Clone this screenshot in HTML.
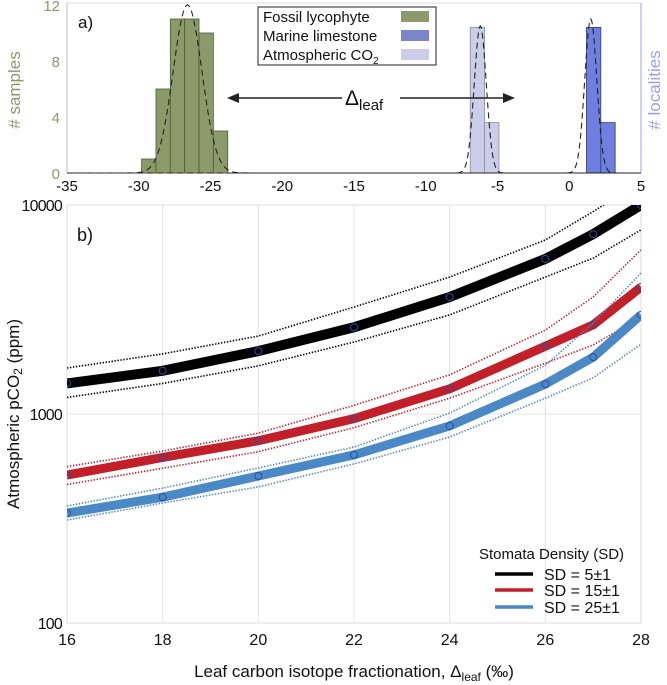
<!DOCTYPE html>
<html><head><meta charset="utf-8"><style>
body{margin:0;background:#fff;}
svg{display:block;font-family:"Liberation Sans",sans-serif;}
</style></head><body>
<svg id="chart" width="667" height="685" viewBox="0 0 667 685"></svg>
<script>
// Panel a data
const greenBinStarts=[-29.8,-28.8,-27.8,-26.8,-25.8,-24.8];
const greenCounts=[1,6,11,11,10,3];
const atmBinStarts=[-6.9,-5.9];
const atmCounts=[10.4,3.6];
const marBinStarts=[1.2,2.2];
const marCounts=[10.4,3.6];
const fitMeans=[-26.6,-6.2,1.5];
const fitHeights=[12,10.5,11];
const fitSigmas=[1.0,0.42,0.42];
const aXTicks=[-35,-30,-25,-20,-15,-10,-5,0,5];
const aYTicks=[0,4,8,12];
// Panel b data
const dleaf=[16,18,20,22,24,26,27,28];
const blackMid=[1400,1610,2000,2600,3630,5520,7250,10000];
const blackHi=[1660,1940,2360,3250,4520,6800,9300,13000];
const blackLo=[1200,1400,1700,2210,2980,4520,5570,7600];
const redMid=[510,620,745,950,1320,2110,2670,4050];
const redHi=[560,665,810,1100,1540,2520,3630,6100];
const redLo=[460,550,660,860,1190,1750,2140,2910];
const blueMid=[336,400,505,637,877,1390,1870,2980];
const blueHi=[363,442,552,695,1010,1710,2720,4730];
const blueLo=[311,375,448,577,776,1190,1490,2160];
const bXTicks=[16,18,20,22,24,26,28];
const bYTicks=[100,1000,10000];

const NS="http://www.w3.org/2000/svg";
const svg=document.getElementById('chart');
function mk(tag,attrs,parent){const e=document.createElementNS(NS,tag);for(const k in attrs)e.setAttribute(k,attrs[k]);(parent||svg).appendChild(e);return e;}

// ---------- Panel A ----------
const ax=v=>67+(v+35)*(574/40);
const ay=v=>173-v*(168/12);
let g=mk('g',{});


let fr=mk('rect',{x:67,y:3,width:574,height:170,fill:'none',stroke:'#ddd','stroke-width':1},g);


let ra=mk('line',{x1:641,y1:3,x2:641,y2:173,stroke:'#9aa0e8','stroke-width':1},g);


let la=mk('line',{x1:67,y1:3,x2:67,y2:173,stroke:'#bbb','stroke-width':1},g);


let ba=mk('line',{x1:67,y1:173,x2:641,y2:173,stroke:'#333','stroke-width':1},g);


aXTicks.forEach(t=>{
  const tl=mk('text',{x:ax(t),y:191,'font-size':15,'text-anchor':'middle',fill:'#111'},g);tl.textContent=t;
  
  
});
aYTicks.forEach(t=>{
  const tl=mk('text',{x:60,y:ay(t)+6,'font-size':15,'text-anchor':'end',fill:'#8a9a6a'},g);tl.textContent=t;
  
  
});
function bars(starts,counts,fill,stroke,name){
  starts.forEach((s,i)=>{
    const r=mk('rect',{x:ax(s),y:ay(counts[i]),width:ax(s+1)-ax(s),height:ay(0)-ay(counts[i]),fill:fill,stroke:stroke,'stroke-width':0.8},g);
    
    
  });
}
bars(greenBinStarts,greenCounts,'#8b9a68','#4d5a38','bar-fossil-lycophyte');
bars(atmBinStarts,atmCounts,'#cbcde9','#8a8ca8','bar-atmospheric-co2');
bars(marBinStarts,marCounts,'#6f7fe0','#333a70','bar-marine-limestone');
fitMeans.forEach((m,i)=>{
  let d='';
  for(let v=-35;v<=5.001;v+=0.05){const y=fitHeights[i]*Math.exp(-0.5*((v-m)/fitSigmas[i])**2);d+=(d?'L':'M')+ax(v).toFixed(2)+','+ay(y).toFixed(2);}
  const p=mk('path',{d:d,fill:'none',stroke:'#222','stroke-width':1.1,'stroke-dasharray':'6 4'},g);
  
  
});
let arr=mk('g',{},g);


mk('line',{x1:232,y1:98,x2:342,y2:98,stroke:'#222','stroke-width':1.5},arr);
mk('line',{x1:400,y1:98,x2:510,y2:98,stroke:'#222','stroke-width':1.5},arr);
mk('path',{d:'M227,98 L239,93 L239,103 Z',fill:'#222'},arr);
mk('path',{d:'M515,98 L503,93 L503,103 Z',fill:'#222'},arr);
let dl=mk('text',{x:345,y:105,'font-size':21,fill:'#111'},g);
dl.innerHTML='Δ<tspan font-size="15" dy="5">leaf</tspan>';


let pa=mk('text',{x:78,y:28,'font-size':17,fill:'#111'},g);pa.textContent='a)';


let yl=mk('text',{x:0,y:0,'font-size':17,fill:'#8a9a6a','text-anchor':'middle',transform:'translate(20,90) rotate(-90)'},g);yl.textContent='# samples';


let yr=mk('text',{x:0,y:0,'font-size':17,fill:'#9aa0e8','text-anchor':'middle',transform:'translate(660,90) rotate(-90)'},g);yr.textContent='# localities';


let lg=mk('g',{},g);


mk('rect',{x:258,y:7,width:178,height:58,fill:'#fff',stroke:'#222','stroke-width':1},lg);
[['Fossil lycophyte','#8b9a68',21],['Marine limestone','#7b85cc',40],['Atmospheric CO','#cbcde9',59]].forEach((e,i)=>{
  const t=mk('text',{x:263,y:e[2]+1,'font-size':15,fill:'#111'},lg);
  t.innerHTML=e[0]+(i==2?'<tspan font-size="10" dy="4">2</tspan>':'');
  
  
  const r=mk('rect',{x:401,y:e[2]-10,width:28,height:11,fill:e[1]},lg);
  
  
});

// ---------- Panel B ----------
const bx=v=>67+(v-16)*(574/12);
const by=v=>623-(Math.log10(v)-2)*209;
let gb=mk('g',{});


let defs=mk('defs',{},gb);
let cp=mk('clipPath',{id:'clipb'},defs);
mk('rect',{x:67,y:205,width:574,height:418},cp);
bXTicks.forEach(t=>{
  const l=mk('line',{x1:bx(t),y1:205,x2:bx(t),y2:623,stroke:'#e4e4e4','stroke-width':1},gb);
  
  
  const tl=mk('text',{x:bx(t),y:645,'font-size':16,'text-anchor':'middle',fill:'#111'},gb);tl.textContent=t;
  
  
});
bYTicks.forEach(t=>{
  const l=mk('line',{x1:67,y1:by(t),x2:641,y2:by(t),stroke:'#e4e4e4','stroke-width':1},gb);
  
  
  const tl=mk('text',{x:62,y:by(t)+6,'font-size':16,'text-anchor':'end',fill:'#111','letter-spacing':'-0.8'},gb);tl.textContent=t;
  
  
});
let fb=mk('rect',{x:67,y:205,width:574,height:418,fill:'none',stroke:'#ddd','stroke-width':1},gb);


let series=mk('g',{'clip-path':'url(#clipb)'},gb);


function pathOf(vals){return vals.map((v,i)=>(i?'L':'M')+bx(dleaf[i]).toFixed(2)+','+by(v).toFixed(2)).join('');}
function drawSeries(mid,hi,lo,col,w,name){
  [hi,lo].forEach(arr=>{
    const p=mk('path',{d:pathOf(arr),fill:'none',stroke:col,'stroke-width':1.6,'stroke-dasharray':'1.4 1.6'},series);
    
    
  });
  const p=mk('path',{d:pathOf(mid),fill:'none',stroke:col,'stroke-width':w,'stroke-linejoin':'miter'},series);
  
  
  mid.forEach((v,i)=>{
    const c=mk('circle',{cx:bx(dleaf[i]),cy:by(v),r:3.5,fill:'none',stroke:'#2c4fa0','stroke-width':1},series);
    
    
  });
}
drawSeries(blackMid,blackHi,blackLo,'#000',10,'sd-5');
drawSeries(redMid,redHi,redLo,'#c21f28',9,'sd-15');
drawSeries(blueMid,blueHi,blueLo,'#4a88c6',9,'sd-25');
let pb=mk('text',{x:77,y:241,'font-size':18,fill:'#111'},gb);pb.textContent='b)';


let yt=mk('text',{x:0,y:0,'font-size':17,fill:'#111','text-anchor':'middle',transform:'translate(19,414) rotate(-90)'},gb);
yt.innerHTML='Atmospheric pCO<tspan font-size="12" dy="3">2</tspan><tspan dy="-3"> (ppm)</tspan>';


let xt=mk('text',{x:354,y:677,'font-size':17,fill:'#111','text-anchor':'middle'},gb);
xt.innerHTML='Leaf carbon isotope fractionation, Δ<tspan font-size="12" dy="4">leaf</tspan><tspan dy="-4"> (‰)</tspan>';


let lb=mk('g',{},gb);


let lt=mk('text',{x:479,y:559,'font-size':15,fill:'#111'},lb);lt.textContent='Stomata Density (SD)';


[['SD = 5±1','#000',574],['SD = 15±1','#c21f28',590],['SD = 25±1','#4a88c6',607]].forEach(e=>{
  const l=mk('line',{x1:495,y1:e[2],x2:533,y2:e[2],stroke:e[1],'stroke-width':3.5},lb);
  
  
  const t=mk('text',{x:544,y:e[2]+6,'font-size':16,fill:'#111'},lb);t.textContent=e[0];
  
  
});
</script>
</body></html>
